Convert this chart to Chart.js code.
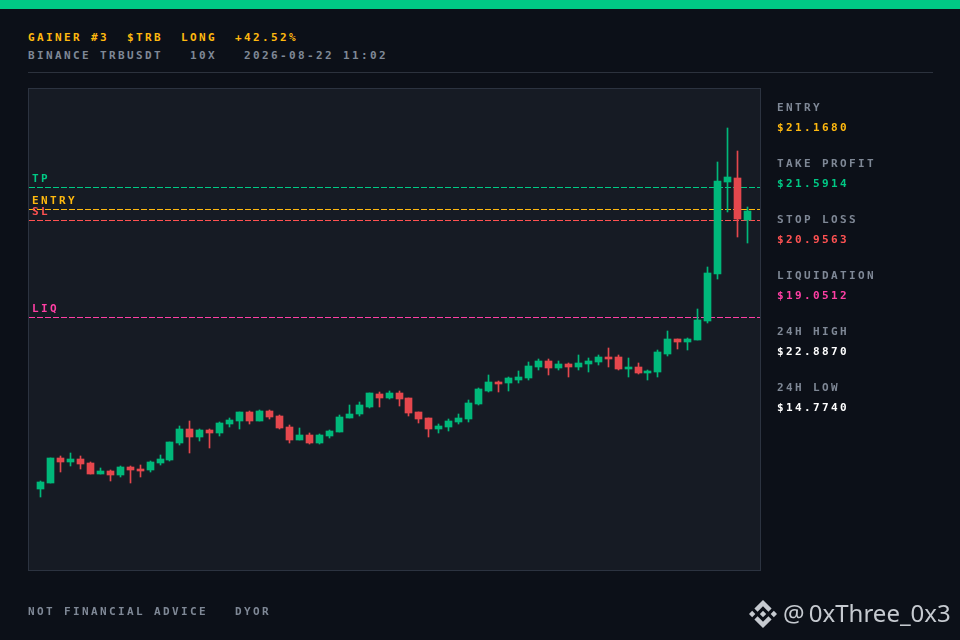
<!DOCTYPE html>
<html>
<head>
<meta charset="utf-8">
<title>TRBUSDT</title>
<script src="https://cdn.jsdelivr.net/npm/chart.js@4"></script>
<style>
    html, body { margin: 0; padding: 0; background: #0c1018; }
    #page { position: relative; width: 960px; height: 640px; overflow: hidden; background: #0c1018; }
    #topbar { position: absolute; left: 0; top: 0; width: 960px; height: 9px; background: #00c985; }
    #rule { position: absolute; left: 28px; top: 72px; width: 905px; height: 1px; background: #2c323d; }
    #panel { position: absolute; left: 28px; top: 88px; width: 731px; height: 481px; background: #161b24; border: 1px solid #2c3340; }
    canvas { position: absolute; left: 0; top: 0; }
    .t { position: absolute; font: bold 11px/12px "DejaVu Sans Mono", monospace; letter-spacing: 2.38px; white-space: pre; }
    #logo { position: absolute; left: 749px; top: 600px; width: 28px; height: 28px; }
    #handle { position: absolute; left: 783px; top: 597px; font: 24px/32px "Noto Sans", sans-serif; word-spacing: -2px; color: #c6cad0; white-space: pre; }
</style>
</head>
<body>
<div id="page">
    <div id="topbar"></div>
    <div class="t" style="left:28px;top:32px;color:#ffb90f">GAINER #3  $TRB  LONG  +42.52%</div>
    <div class="t" style="left:28px;top:50px;color:#7f8896">BINANCE TRBUSDT   10X   2026-08-22 11:02</div>
    <div id="rule"></div>
    <div id="panel"></div>
    <canvas id="grafico" width="960" height="640"></canvas>
    <div id="labels"></div>
    <div class="t" style="left:28px;top:606px;color:#7f8896">NOT FINANCIAL ADVICE   DYOR</div>
    <svg id="logo" viewBox="0 0 126.61 126.61"><path fill="#c6cad0" d="M38.73 53.2l24.59-24.58 24.6 24.6 14.3-14.31L63.32 0 24.43 38.9zM0 63.31l14.3-14.31 14.31 14.31-14.31 14.3zM38.73 73.41l24.59 24.59 24.6-24.6 14.31 14.29-38.9 38.91-38.91-38.88-.02-.02zM98 63.31l14.3-14.31 14.31 14.3-14.31 14.32zM77.83 63.3L63.32 48.78 52.59 59.51l-1.24 1.23-2.54 2.54 14.51 14.5 14.51-14.47z"/></svg>
    <div id="handle">@ 0xThree_0x3</div>
</div>
<script>
var opens = [15.707, 15.824, 16.313, 16.234, 16.293, 16.215, 16.000, 16.059, 15.980, 16.137, 16.098, 16.078,
    16.215, 16.273, 16.606, 16.879, 16.723, 16.860, 16.801, 16.977, 17.035, 17.211, 17.035, 17.231,
    17.133, 16.918, 16.664, 16.762, 16.606, 16.742, 16.821, 17.094, 17.172, 17.309, 17.563, 17.485,
    17.583, 17.485, 17.211, 17.094, 16.879, 16.918, 17.016, 17.075, 17.368, 17.622, 17.797, 17.778,
    17.837, 17.876, 18.090, 18.208, 18.071, 18.149, 18.090, 18.149, 18.188, 18.286, 18.286, 18.051,
    18.090, 17.973, 17.993, 18.344, 18.638, 18.579, 18.618, 18.989, 19.908, 21.705, 21.783, 20.964];
var closes = [15.844, 16.313, 16.234, 16.293, 16.195, 16.000, 16.059, 15.980, 16.137, 16.078, 16.059, 16.234,
    16.293, 16.625, 16.879, 16.723, 16.860, 16.801, 16.996, 17.055, 17.211, 17.035, 17.231, 17.114,
    16.899, 16.664, 16.762, 16.606, 16.762, 16.840, 17.114, 17.172, 17.348, 17.583, 17.485, 17.583,
    17.465, 17.192, 17.075, 16.879, 16.938, 17.035, 17.094, 17.387, 17.661, 17.797, 17.758, 17.876,
    17.895, 18.110, 18.208, 18.071, 18.149, 18.090, 18.169, 18.208, 18.286, 18.247, 18.051, 18.090,
    17.973, 18.012, 18.384, 18.638, 18.579, 18.638, 19.009, 19.927, 21.725, 21.803, 20.983, 21.139];
var highs = [15.863, 16.313, 16.352, 16.410, 16.352, 16.234, 16.117, 16.078, 16.156, 16.156, 16.176, 16.254,
    16.371, 16.625, 16.938, 17.035, 16.879, 16.879, 17.016, 17.094, 17.211, 17.231, 17.250, 17.250,
    17.153, 16.957, 16.899, 16.801, 16.781, 16.860, 17.153, 17.348, 17.407, 17.583, 17.602, 17.622,
    17.622, 17.485, 17.211, 17.094, 16.977, 17.075, 17.172, 17.446, 17.680, 17.934, 17.817, 17.895,
    18.012, 18.188, 18.247, 18.247, 18.208, 18.169, 18.325, 18.266, 18.325, 18.462, 18.325, 18.266,
    18.169, 18.032, 18.423, 18.794, 18.638, 18.657, 19.224, 20.045, 22.096, 22.760, 22.311, 21.217];
var lows = [15.550, 15.824, 16.039, 16.156, 16.098, 16.000, 16.000, 15.863, 15.941, 15.824, 15.941, 16.039,
    16.176, 16.254, 16.567, 16.410, 16.645, 16.508, 16.742, 16.918, 16.879, 16.977, 17.035, 17.075,
    16.879, 16.606, 16.664, 16.586, 16.586, 16.703, 16.821, 17.094, 17.133, 17.290, 17.309, 17.465,
    17.329, 17.133, 16.996, 16.723, 16.801, 16.840, 16.977, 17.016, 17.348, 17.602, 17.602, 17.622,
    17.778, 17.837, 18.032, 17.934, 18.032, 17.895, 18.032, 17.993, 18.130, 18.090, 18.032, 17.895,
    17.954, 17.837, 17.895, 18.305, 18.442, 18.423, 18.618, 18.950, 19.810, 21.120, 20.631, 20.514];

var levelNames = ['TP', 'ENTRY', 'SL', 'LIQ'];
var levelPrices = [21.5914, 21.1680, 20.9563, 19.0512];
var levelColors = ['#00c985', '#ffb90f', '#ff5252', '#ff3fa4'];

var statNames = ['ENTRY', 'TAKE PROFIT', 'STOP LOSS', 'LIQUIDATION', '24H HIGH', '24H LOW'];
var statValues = ['$21.1680', '$21.5914', '$20.9563', '$19.0512', '$22.8870', '$14.7740'];
var statColors = ['#ffb90f', '#00c985', '#ff5252', '#ff3fa4', '#ffffff', '#ffffff'];

var verde = '#00b87a';
var rojo = '#e5474d';

var colores = opens.map(function (o, i) { return closes[i] >= o ? verde : rojo; });
var cuerpos = opens.map(function (o, i) { return { x: i, y: [o, closes[i]] }; });
var mechas = lows.map(function (l, i) { return { x: i, y: [l, highs[i]] }; });

var datasets = [];
levelPrices.forEach(function (precio, i) {
    datasets.push({
        type: 'line',
        data: [{ x: -1.155, y: precio }, { x: 72.25, y: precio }],
        borderColor: levelColors[i],
        borderWidth: 1,
        borderDash: [6, 2],
        pointRadius: 0,
        order: 3
    });
});
datasets.push({ type: 'bar', data: mechas, backgroundColor: colores, barThickness: 1, grouped: false, order: 2 });
datasets.push({ type: 'bar', data: cuerpos, backgroundColor: colores, barThickness: 7, grouped: false, order: 1 });

// pixel snap, the reference has crisp edges
var ajustePixel = {
    id: 'ajustePixel',
    beforeDatasetsDraw: function (chart) {
        chart.getSortedVisibleDatasetMetas().forEach(function (meta) {
            meta.data.forEach(function (el) {
                if (meta.type === 'bar') {
                    el.x = Math.floor(el.x) + 0.5;
                    el.y = Math.round(el.y);
                    el.base = Math.round(el.base);
                } else {
                    el.y = Math.floor(el.y) + 0.5;
                }
            });
        });
    }
};

var myChart = new Chart(document.getElementById('grafico'), {
    type: 'bar',
    data: { datasets: datasets },
    plugins: [ajustePixel],
    options: {
        responsive: false,
        animation: false,
        events: [],
        layout: { padding: { left: 29, top: 89, right: 200, bottom: 70 } },
        plugins: { legend: { display: false }, tooltip: { enabled: false } },
        scales: {
            x: { type: 'linear', display: false, offset: false, min: -1.155, max: 72.25 },
            y: { type: 'linear', display: false, min: 14.124, max: 23.5224 }
        }
    }
});

// texts
var capa = document.getElementById('labels');
function texto(str, x, y, color) {
    var d = document.createElement('div');
    d.className = 't';
    d.textContent = str;
    d.style.left = x + 'px';
    d.style.top = y + 'px';
    d.style.color = color;
    capa.appendChild(d);
}
levelNames.forEach(function (n, i) {
    var y = myChart.scales.y.getPixelForValue(levelPrices[i]);
    texto(n, 32, Math.floor(y) - 14, levelColors[i]);
});
statNames.forEach(function (n, i) {
    texto(n, 777, 102 + i * 56, '#7f8896');
    texto(statValues[i], 777, 122 + i * 56, statColors[i]);
});
</script>
</body>
</html>
